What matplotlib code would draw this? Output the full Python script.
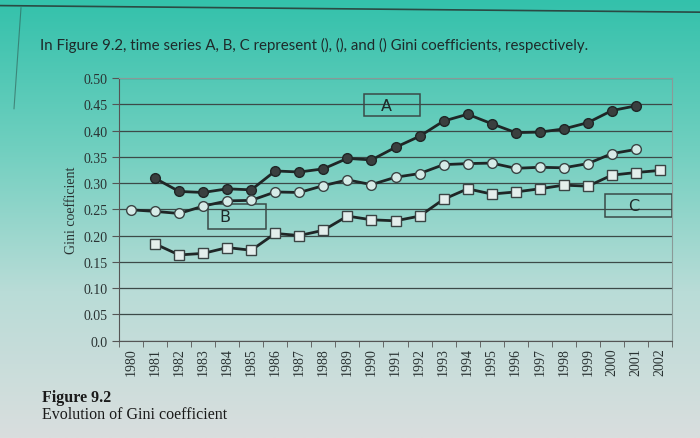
import numpy as np
import matplotlib
matplotlib.use("Agg")
import matplotlib.pyplot as plt
from matplotlib.patches import Rectangle

# data
years = list(range(1980, 2003))
years_a = list(range(1981, 2002))
gini_a = [0.309, 0.284, 0.282, 0.289, 0.287, 0.323, 0.321, 0.327, 0.347, 0.344,
          0.368, 0.389, 0.418, 0.431, 0.413, 0.396, 0.397, 0.403, 0.415, 0.438, 0.447]
years_b = list(range(1980, 2002))
gini_b = [0.249, 0.246, 0.242, 0.256, 0.266, 0.267, 0.283, 0.282, 0.295, 0.306,
          0.297, 0.311, 0.318, 0.335, 0.337, 0.338, 0.328, 0.330, 0.329, 0.337, 0.356, 0.364]
years_c = list(range(1981, 2003))
gini_c = [0.184, 0.163, 0.166, 0.177, 0.172, 0.204, 0.200, 0.210, 0.237, 0.230,
          0.228, 0.237, 0.269, 0.289, 0.279, 0.283, 0.289, 0.296, 0.294, 0.315, 0.320, 0.324]
yticks = [0.0, 0.05, 0.10, 0.15, 0.20, 0.25, 0.30, 0.35, 0.40, 0.45, 0.50]
ytick_labels = ["0.0", "0.05", "0.10", "0.15", "0.20", "0.25", "0.30", "0.35", "0.40", "0.45", "0.50"]

fig = plt.figure(figsize=(7, 4.39), dpi=100)

# photo-like background: teal at top fading to grey
bg = fig.add_axes([0, 0, 1, 1], zorder=-10)
grad = np.linspace(0, 1, 256).reshape(-1, 1)
cmap = matplotlib.colors.LinearSegmentedColormap.from_list(
    "bg", ["#33c1ab", "#6fcfbf", "#b9dcd7", "#d9dede"])
bg.imshow(grad, aspect="auto", cmap=cmap, extent=[0, 1, 0, 1])
bg.plot([0, 1], [0.985, 0.97], color="#2a4a44", lw=1.2)
bg.plot([0.03, 0.02], [0.98, 0.75], color="#2f5a52", lw=0.8, alpha=0.6)
bg.set_xlim(0, 1)
bg.set_ylim(0, 1)
bg.set_axis_off()

fig.text(0.057, 0.887, "In Figure 9.2, time series A, B, C represent (), (), and () Gini coefficients, respectively.",
         family="Lato", fontsize=10.8, color="#1e2a2a")

ax = fig.add_axes([0.17, 0.222, 0.79, 0.598])
ax.patch.set_alpha(0)
ink = "#1f2626"

ax.plot(years_a, gini_a, color=ink, lw=2, marker="o", ms=7,
        mfc="#3a3f3f", mec=ink, zorder=4)
ax.plot(years_b, gini_b, color=ink, lw=2, marker="o", ms=7,
        mfc="#d6ebe7", mec="#3a4444", mew=1, zorder=4)
ax.plot(years_c, gini_c, color=ink, lw=2, marker="s", ms=6.5,
        mfc="#e4eeec", mec="#3a4444", mew=1, zorder=4)

# label boxes
for x0, x1, y0, y1, lab, tx in [(1989.7, 1992.0, 0.427, 0.469, "A", 1990.6),
                                (1983.2, 1985.6, 0.213, 0.261, "B", 1983.9),
                                (1999.7, 2002.5, 0.235, 0.280, "C", 2000.9)]:
    ax.add_patch(Rectangle((x0, y0), x1 - x0, y1 - y0, fill=False,
                           ec="#3a4a48", lw=1.1, zorder=3))
    ax.text(tx, (y0 + y1) / 2, lab, family="DejaVu Sans", fontsize=11.5,
            ha="center", va="center", color="#1e2a2a")

ax.set_xlim(1979.5, 2002.5)
ax.set_ylim(0, 0.5)
ax.set_yticks(yticks)
ax.set_yticklabels(ytick_labels, family="Liberation Serif", fontsize=10, color="#2a3333")
ax.set_xticks(years)
ax.set_xticklabels([str(y) for y in years], rotation=90,
                   family="Liberation Serif", fontsize=10, color="#2a3333")
ax.set_xticks(np.arange(1979.5, 2003, 1), minor=True)
ax.tick_params(axis="x", which="major", length=0, pad=5)
ax.tick_params(axis="x", which="minor", length=4, color="#555")
ax.tick_params(axis="y", length=5, color="#555")
ax.grid(axis="y", color="#3c4a48", lw=0.9)
ax.set_ylabel("Gini coefficient", family="Liberation Serif", fontsize=10, color="#2a3333")
for side in ["left", "bottom"]:
    ax.spines[side].set_color("#555")
for side in ["top", "right"]:
    ax.spines[side].set_color("#8a9a98")

fig.text(0.06, 0.085, "Figure 9.2", family="Liberation Serif", fontsize=11.5,
         weight="bold", color="#1a1a1a")
fig.text(0.06, 0.045, "Evolution of Gini coefficient", family="Liberation Serif",
         fontsize=11.5, color="#1a1a1a")

fig.savefig("out.png", dpi=100)
